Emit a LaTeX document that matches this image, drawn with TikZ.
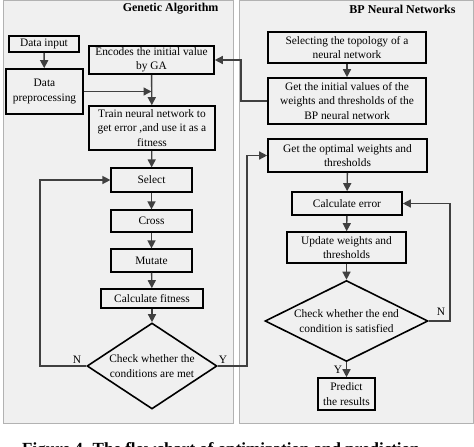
\documentclass[tikz,border=0pt]{standalone}
\usepackage{fontspec}
\setmainfont{Liberation Serif}
\usetikzlibrary{arrows.meta,shapes.geometric}
\tikzset{
  panel/.style={draw=black!30, line width=0.8pt, fill=black!6},
  box/.style={draw, line width=1.6pt, align=center, inner sep=0pt, font=\fs},
  lightbox/.style={box, line width=1.2pt},
  decision/.style={diamond, draw, line width=1.6pt, align=center, inner sep=0pt, font=\fs},
  flow/.style={draw=black!75, line width=1.4pt, -{Triangle[length=8pt,width=8pt]}},
  mark label/.style={font=\fs, inner sep=1pt}
}
\newcommand{\fs}{\fontsize{11.4}{14.5}\selectfont}
\begin{document}
\begin{tikzpicture}[x=1pt, y=1pt]
    \useasboundingbox (0,0) rectangle (474,-447);
    % panels
    \draw[panel] (3,-0.5) rectangle (233,-423);
    \draw[panel] (239,-0.5) rectangle (473,-423);
    \node[anchor=east, font=\fontsize{12}{14}\selectfont\bfseries] (gatitle) at (222,-9) {Genetic Algorithm};
    \node[anchor=east, font=\fontsize{12}{14}\selectfont\bfseries] (bptitle) at (459,-9) {BP Neural Networks};

    % genetic algorithm side
    \node[box, minimum width=70, minimum height=16] (input) at (44,-44) {Data input};
    \node[box, minimum width=77, minimum height=45] (prep) at (44.5,-91.5) {Data\\preprocessing};
    \node[box, minimum width=125, minimum height=28] (encode) at (151.5,-60) {Encodes the initial value\\by GA};
    \node[box, minimum width=126, minimum height=44] (train) at (152,-128) {Train neural network to\\get error ,and use it as a\\fitness};
    \node[lightbox, minimum width=81, minimum height=24] (select) at (151.5,-180) {Select};
    \node[lightbox, minimum width=81, minimum height=22] (cross) at (151.5,-221) {Cross};
    \node[lightbox, minimum width=81, minimum height=23] (mutate) at (151.5,-260.5) {Mutate};
    \node[box, minimum width=102, minimum height=19] (fitness) at (152,-298.5) {Calculate fitness};
    \node[decision, aspect=1.5, minimum width=130, minimum height=86] (check) at (152,-366) {Check whether the\\conditions are met};

    % bp neural network side
    \node[box, minimum width=158, minimum height=31] (topo) at (347,-47.5) {Selecting the topology of a\\neural network};
    \node[box, minimum width=158, minimum height=46] (initval) at (347,-101) {Get the initial values of the\\weights and thresholds of the\\BP neural network};
    \node[box, minimum width=159, minimum height=33] (optimal) at (347.5,-155.5) {Get the optimal weights and\\thresholds};
    \node[box, minimum width=110, minimum height=23] (error) at (347,-203.5) {Calculate error};
    \node[box, minimum width=119, minimum height=31] (update) at (346.5,-247.5) {Update weights and\\thresholds};
    \node[decision, aspect=2, minimum width=163, minimum height=81] (endcheck) at (346.5,-321) {Check whether the end\\condition is satisfied};
    \node[box, minimum width=57, minimum height=32] (predict) at (346.5,-394) {Predict\\the results};

    % bend points
    \coordinate (initbend) at (241,-101);
    \coordinate (nbend) at (40,-366);
    \coordinate (ybend) at (247,-366);
    \coordinate (endbend) at (450,-321);

    \draw[flow] (input) -- (prep);
    \draw[flow] (encode) -- (train);
    \draw[flow] (prep.east) -- (encode.south |- prep.east);
    \draw[flow] (initval.west) -- (initbend) |- (encode.east);
    \draw[flow] (topo) -- (initval);
    \draw[flow] (train) -- (select);
    \draw[flow] (select) -- (cross);
    \draw[flow] (cross) -- (mutate);
    \draw[flow] (mutate) -- (fitness);
    \draw[flow] (fitness) -- (check);
    \draw[flow] (check.west) -- (nbend) |- (select.west);
    \draw[flow] (check.east) -- (ybend) |- (optimal.west);
    \draw[flow] (optimal) -- (error);
    \draw[flow] (error) -- (update);
    \draw[flow] (update) -- (endcheck);
    \draw[flow] (endcheck.east) -- (endbend) |- (error.east);
    \draw[flow] (endcheck.south) -- (predict.north);

    \node[mark label] (nleft) at (77,-360) {N};
    \node[mark label] (yleft) at (223,-360) {Y};
    \node[mark label] (nright) at (441,-312) {N};
    \node[mark label] (yright) at (338,-370) {Y};

    % caption, cut by the page edge
    \node[anchor=base west, font=\fontsize{17}{20}\selectfont\bfseries, inner sep=0pt] (caption) at (22,-454) {Figure 4. The flowchart of optimization and prediction};
\end{tikzpicture}
\end{document}
